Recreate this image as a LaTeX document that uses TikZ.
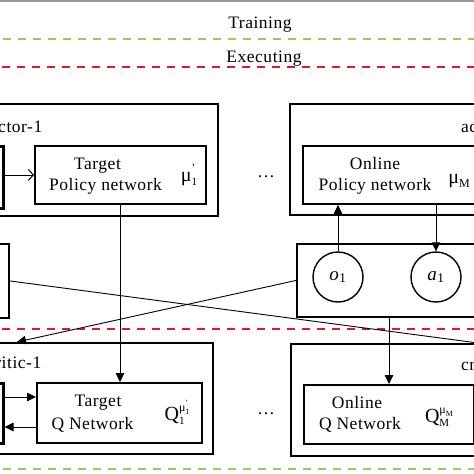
\documentclass[tikz,border=0pt]{standalone}
\usepackage{fontspec}
\setmainfont{Liberation Serif}[LetterSpace=3]
\usetikzlibrary{arrows.meta}
\definecolor{tgreen}{RGB}{150,205,90}
\definecolor{tred}{RGB}{228,25,35}
\newcommand\mupone{{\fontsize{20}{20}\selectfont μ}\rlap{\raisebox{0.55em}{\fontsize{11}{11}\selectfont'}}\raisebox{-0.28em}{\fontsize{11}{11}\selectfont 1}}
\newcommand\mumsub{{\fontsize{20}{20}\selectfont μ}\raisebox{-0.28em}{\fontsize{12}{12}\selectfont M}}
\newcommand\qone{{\fontsize{20}{20}\selectfont Q}\rlap{\raisebox{-0.25em}{\fontsize{11}{11}\selectfont 1}}\raisebox{0.5em}{\fontsize{12}{12}\selectfont μ\rlap{\raisebox{0.45em}{\fontsize{8}{8}\selectfont'}}\raisebox{-0.25em}{\fontsize{8}{8}\selectfont 1}}}
\newcommand\qmm{{\fontsize{20}{20}\selectfont Q}\rlap{\raisebox{-0.25em}{\fontsize{11}{11}\selectfont M}}\raisebox{0.5em}{\fontsize{12}{12}\selectfont μ\raisebox{-0.25em}{\fontsize{8}{8}\selectfont M}}}
\begin{document}
\begin{tikzpicture}[x=1pt,y=-1pt,
  box/.style={draw, line width=1.9pt, inner sep=0pt, anchor=north west},
  thickbox/.style={box, line width=3pt},
  txt/.style={font=\fontsize{17.5}{20}\selectfont, inner sep=0pt, anchor=base},
  circ/.style={draw, circle, line width=1.4pt, minimum size=50pt, inner sep=0pt, font=\fontsize{19}{20}\selectfont},
  conn/.style={line width=0.9pt},
  arr/.style={conn, -{Triangle[length=9pt,width=8.5pt]}},
  barb/.style={conn, -{Straight Barb[length=5pt,width=11pt,line width=1pt]}},
  dgreen/.style={tgreen, line width=2pt, dash pattern=on 8pt off 7pt},
  dred/.style={tred, line width=2pt, dash pattern=on 8pt off 7pt}]
\useasboundingbox (0,0) rectangle (474,474);
\clip (0,0) rectangle (474,474);
\fill[white] (0,0) rectangle (474,474);
\fill[gray!80] (0,0) rectangle (474,1.7);
% separators
\coordinate (gL1) at (3,39); \coordinate (gR1) at (474,39);
\coordinate (rL1) at (2,67); \coordinate (rR1) at (474,67);
\coordinate (rL2) at (2,329); \coordinate (rR2) at (474,329);
\coordinate (gL2) at (3,469); \coordinate (gR2) at (474,469);
\draw[dgreen] (gL1) -- (gR1);
\draw[dred] (rL1) -- (rR1);
\draw[dred] (rL2) -- (rR2);
\draw[dgreen] (gL2) -- (gR2);
\node[txt] (train) at (260,28) {Training};
\node[txt] (exec) at (264,62) {Executing};
% actor-1
\node[box, minimum width=317pt, minimum height=112pt] (a1out) at (-100,103) {};
\node[txt, anchor=base east] (a1lab) at (42.5,132) {actor-1};
\node[box, minimum width=171pt, minimum height=58pt] (tp1) at (34,145) {};
\node[txt] (tp1a) at (97.5,169) {Target};
\node[txt] (tp1b) at (105.5,190.5) {Policy network};
\node[txt] (mu1) at (189,181) {\mupone};
\node[thickbox, minimum width=101.5pt, minimum height=62pt] (op1) at (-100,144.5) {};
\draw[barb] (op1.east |- tp1.west) -- (tp1.west);
% actor-M
\node[box, minimum width=300pt, minimum height=111pt] (aMout) at (289,103) {};
\node[txt, anchor=base west] (aMlab) at (461,132) {actor-M};
\node[box, minimum width=300pt, minimum height=58pt] (opM) at (302,145) {};
\node[txt] (opMa) at (375,169) {Online};
\node[txt] (opMb) at (375,190.5) {Policy network};
\node[txt] (muM) at (459,183) {\mumsub};
\node[txt] (dots1) at (266,177.5) {…};
% middle row
\node[box, minimum width=108pt, minimum height=74pt] (lbox) at (-100,243) {};
\node[box, minimum width=300pt, minimum height=73pt] (obs) at (296,243) {};
\node[circ] (o1) at (338,277) {\textit{o}\textsubscript{1}};
\node[circ] (a1c) at (436,277) {\textit{a}\textsubscript{1}};
\draw[arr] (o1.north) -- (o1.north |- opM.south);
\draw[arr] (a1c.north |- opM.south) -- (a1c.north);
% critic-1
\node[box, minimum width=312pt, minimum height=111pt] (c1out) at (-100,342) {};
\node[txt, anchor=base east] (c1lab) at (41.5,368) {critic-1};
\node[box, minimum width=165pt, minimum height=60pt] (tq1) at (36,382) {};
\node[txt] (tq1a) at (98,406) {Target};
\node[txt] (tq1b) at (92.5,429) {Q Network};
\node[txt] (q1lab) at (177,420) {\qone};
\node[thickbox, minimum width=101.5pt, minimum height=60pt] (oq1) at (-100,382) {};
\coordinate (y397) at (0,397);
\coordinate (y427) at (0,427);
\draw[arr] (oq1.east |- y397) -- (tq1.west |- y397);
\draw[arr] (tq1.west |- y427) -- (oq1.east |- y427);
% critic-M
\node[box, minimum width=300pt, minimum height=112pt] (cMout) at (290,343) {};
\node[txt, anchor=base west] (cMlab) at (461,370) {critic-M};
\node[box, minimum width=170pt, minimum height=59pt] (oqM) at (303,384) {};
\node[txt] (oqMa) at (357,408) {Online};
\node[txt] (oqMb) at (360,429) {Q Network};
\node[txt] (qMlab) at (439,422) {\qmm};
\node[txt] (dots2) at (266,414) {…};
% connectors
\coordinate (x120) at (120,0);
\coordinate (x389) at (389,0);
\coordinate (c1top) at (17,342);
\coordinate (cMtop) at (478,343);
\draw[arr] (tp1.south -| x120) -- (tq1.north -| x120);
\draw[arr] (obs.south -| x389) -- (oqM.north -| x389);
\draw[conn] (lbox.east) -- (cMtop);
\draw[arr] (obs.west) -- (c1top);
\end{tikzpicture}
\end{document}
